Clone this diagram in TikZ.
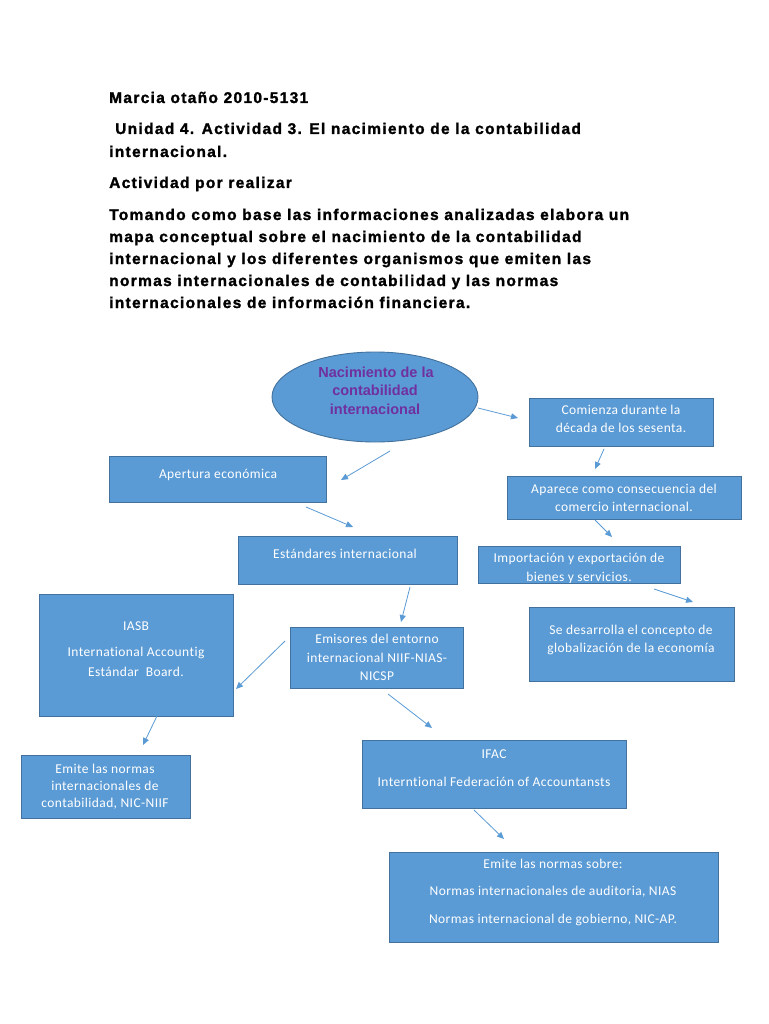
\documentclass[tikz,border=0pt]{standalone}
\usepackage{fontspec}
\setmainfont{Liberation Sans}
\newfontfamily\hdrfont{Liberation Sans}[LetterSpace=8.5,FakeBold=1.5]
\newfontfamily\calfont{Carlito}[LetterSpace=3,Ligatures=NoCommon]
\usetikzlibrary{arrows.meta,shapes.geometric}
\definecolor{boxblue}{HTML}{5B9BD5}
\definecolor{boxedge}{HTML}{41719C}
\definecolor{arrblue}{HTML}{5B9BD5}
\definecolor{purp}{HTML}{7030A0}
\begin{document}
\begin{tikzpicture}[x=1pt,y=-1pt,
  box/.style={draw=boxedge,fill=boxblue,line width=0.9pt,inner sep=0pt},
  hd/.style={anchor=base west,inner sep=0pt,font=\hdrfont\bfseries\fontsize{15.5}{17}\selectfont},
  bt/.style={anchor=base,inner sep=0pt,text=white,font=\calfont\fontsize{13.5}{15}\selectfont},
  et/.style={anchor=base,inner sep=0pt,text=purp,font=\bfseries\fontsize{14.5}{16}\selectfont},
  arr/.style={draw=arrblue,line width=0.8pt,-{Triangle[length=7pt,width=6pt]}}]
\useasboundingbox (0,0) rectangle (768,1024);
\fill[white] (0,0) rectangle (768,1024);
% header
\node[hd] (h1) at (109,103) {Marcia otaño 2010-5131};
\node[hd] (h2) at (115,134) {Unidad 4. Actividad 3. El nacimiento de la contabilidad};
\node[hd] (h3) at (109,157) {internacional.};
\node[hd] (h4) at (109,188) {Actividad por realizar};
\node[hd] (p1) at (109,220) {Tomando como base las informaciones analizadas elabora un};
\node[hd] (p2) at (109,242) {mapa conceptual sobre el nacimiento de la contabilidad};
\node[hd] (p3) at (109,264) {internacional y los diferentes organismos que emiten las};
\node[hd] (p4) at (109,286) {normas internacionales de contabilidad y las normas};
\node[hd] (p5) at (109,308) {internacionales de información financiera.};
% ellipse
\node[box,ellipse,minimum width=206pt,minimum height=90pt] (nac) at (375,397) {};
\node[et] (nac1) at (376,377) {Nacimiento de la};
\node[et] (nac2) at (375,395) {contabilidad};
\node[et] (nac3) at (375,414) {internacional};
% boxes
\node[box,minimum width=184pt,minimum height=48pt] (com) at (621,422) {};
\node[bt] at (621,414) {Comienza durante la};
\node[bt] at (621,432) {década de los sesenta.};
\node[box,minimum width=217pt,minimum height=46pt] (ape) at (217.5,479) {};
\node[bt] at (218,478) {Apertura económica};
\node[box,minimum width=234pt,minimum height=43pt] (apa) at (624,497.5) {};
\node[bt] at (624,493) {Aparece como consecuencia del};
\node[bt] at (624,511) {comercio internacional.};
\node[box,minimum width=219pt,minimum height=48pt] (est) at (347.5,560) {};
\node[bt] at (345,558) {Estándares internacional};
\node[box,minimum width=202pt,minimum height=37pt] (imp) at (579,564.5) {};
\begin{scope}
\clip (478,546) rectangle (680,582);
\node[bt] at (579,562) {Importación y exportación de};
\node[bt] at (579,581) {bienes y servicios.};
\end{scope}
\node[box,minimum width=194pt,minimum height=122pt] (iasb) at (136,655) {};
\node[bt] at (136,630) {IASB};
\node[bt] at (136,656) {International Accountig};
\node[bt] at (136,676) {Estándar\ \ Board.};
\node[box,minimum width=173pt,minimum height=61pt] (emi) at (376.5,657.5) {};
\node[bt] at (377,643) {Emisores del entorno};
\node[bt] at (377,662) {internacional NIIF-NIAS-};
\node[bt] at (377,680) {NICSP};
\node[box,minimum width=205pt,minimum height=74pt] (des) at (631.5,644) {};
\node[bt] at (631,634) {Se desarrolla el concepto de};
\node[bt] at (631,652) {globalización de la economía};
\node[box,minimum width=169pt,minimum height=63pt] (nic) at (105.5,786.5) {};
\node[bt] at (105,773) {Emite las normas};
\node[bt] at (105,790) {internacionales de};
\node[bt] at (105,807) {contabilidad, NIC-NIIF};
\node[box,minimum width=264pt,minimum height=68pt] (ifac) at (494,774) {};
\node[bt] at (494,758) {IFAC};
\node[bt] at (494,786) {Interntional Federación of Accountansts};
\node[box,minimum width=329pt,minimum height=90pt] (nor) at (553.5,897) {};
\node[bt] at (553,868) {Emite las normas sobre:};
\node[bt] at (553,895) {Normas internacionales de auditoria, NIAS};
\node[bt] at (553,923) {Normas internacional de gobierno, NIC-AP.};
% arrow endpoints
\coordinate (a1s) at (478,408); \coordinate (a1e) at (518,418);
\coordinate (a2s) at (390,451); \coordinate (a2e) at (341,480);
\coordinate (a3s) at (604,449); \coordinate (a3e) at (595,469);
\coordinate (a4s) at (306,507); \coordinate (a4e) at (353,527);
\coordinate (a5s) at (595,520); \coordinate (a5e) at (612,537);
\coordinate (a6s) at (654,589); \coordinate (a6e) at (693,602);
\coordinate (a7s) at (410,587); \coordinate (a7e) at (401,622);
\coordinate (a8s) at (285,641); \coordinate (a8e) at (236,689);
\coordinate (a9s) at (157,716); \coordinate (a9e) at (143,745);
\coordinate (a10s) at (388,694); \coordinate (a10e) at (432,728);
\coordinate (a11s) at (474,810); \coordinate (a11e) at (504,839);
\draw[arr] (a1s) -- (a1e);
\draw[arr] (a2s) -- (a2e);
\draw[arr] (a3s) -- (a3e);
\draw[arr] (a4s) -- (a4e);
\draw[arr] (a5s) -- (a5e);
\draw[arr] (a6s) -- (a6e);
\draw[arr] (a7s) -- (a7e);
\draw[arr] (a8s) -- (a8e);
\draw[arr] (a9s) -- (a9e);
\draw[arr] (a10s) -- (a10e);
\draw[arr] (a11s) -- (a11e);
\end{tikzpicture}
\end{document}
